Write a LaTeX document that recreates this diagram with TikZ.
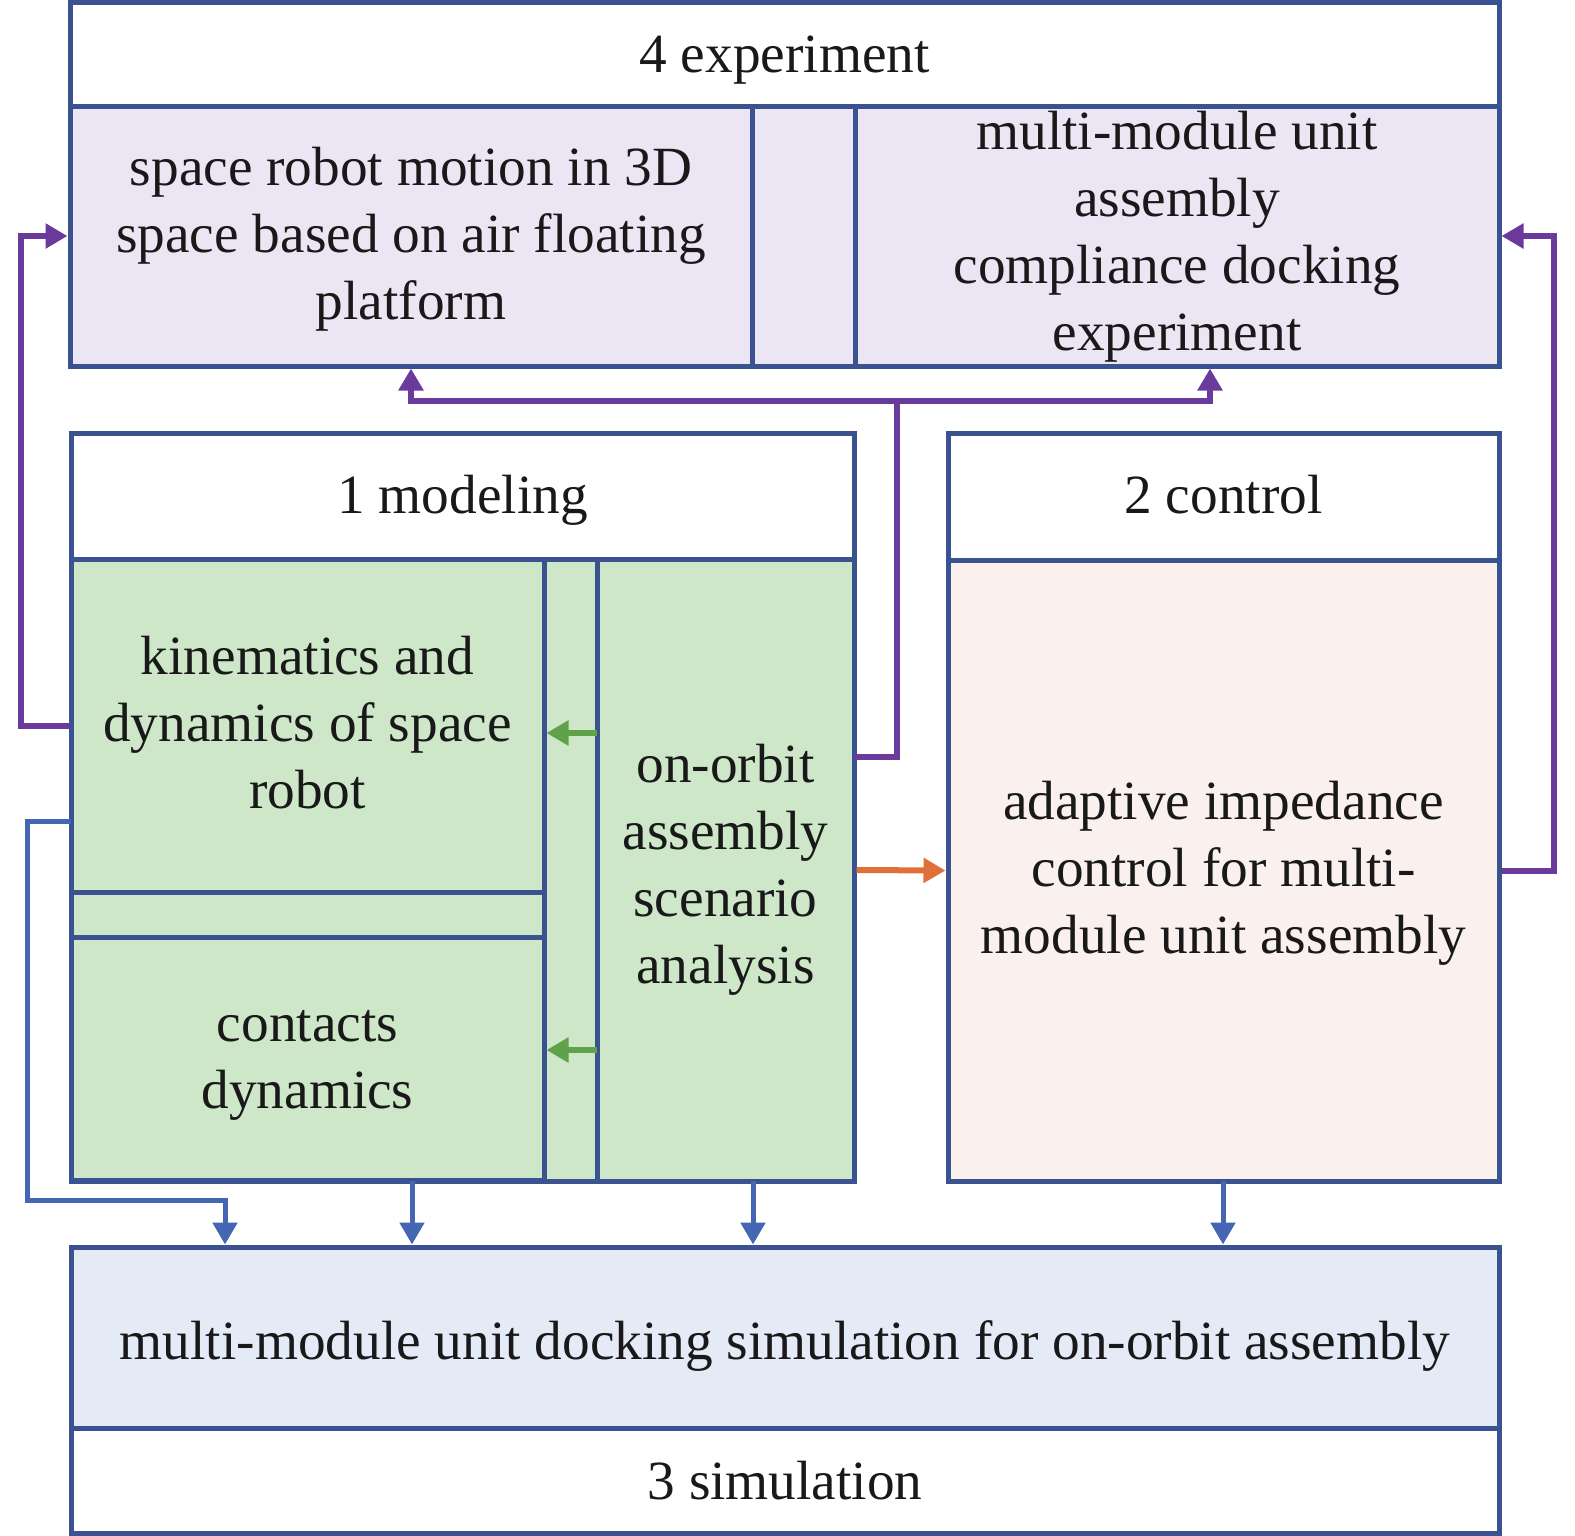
\documentclass[tikz,border=0pt]{standalone}
\usepackage{fontspec}
\setmainfont{Liberation Serif}
\usetikzlibrary{arrows.meta,calc}
\definecolor{bord}{HTML}{3A5290}
\definecolor{expfill}{HTML}{ECE5F3}
\definecolor{grnfill}{HTML}{CDE7C8}
\definecolor{ctrlfill}{HTML}{FAF1EE}
\definecolor{simfill}{HTML}{E4EAF6}
\definecolor{purp}{HTML}{6A3A9C}
\definecolor{oran}{HTML}{E0703A}
\definecolor{grn}{HTML}{5FA24A}
\definecolor{blu}{HTML}{4466B3}
\begin{document}
\begin{tikzpicture}[x=1pt,y=-1pt,
  cell/.style={draw=bord,line width=5pt,inner sep=0pt},
  txt/.style={inner sep=0pt,align=center,font=\fontsize{55.3}{67}\selectfont,text=black!90},
  tip/.style={-{Triangle[length=22pt,width=24pt]}},
  parr/.style={draw=purp,line width=6pt,tip},
  plin/.style={draw=purp,line width=6pt},
  oarr/.style={draw=oran,line width=6pt,tip},
  garr/.style={draw=grn,line width=6pt,tip},
  barr/.style={draw=blu,line width=5pt,tip}]
\useasboundingbox (0,0) rectangle (1575,1535);
% experiment
\node[cell,fill=white,minimum width=1429pt,minimum height=104pt] (exphead) at (784.5,54) {};
\node[cell,fill=expfill,minimum width=682pt,minimum height=260pt] (expL) at (411,236) {};
\node[cell,fill=expfill,minimum width=103pt,minimum height=260pt] (expM) at (803.5,236) {};
\node[cell,fill=expfill,minimum width=644pt,minimum height=260pt] (expR) at (1177,236) {};
% modeling
\node[cell,fill=white,minimum width=783pt,minimum height=127pt] (modhead) at (462.5,496.5) {};
\node[cell,fill=grnfill,minimum width=783pt,minimum height=622pt] (modbody) at (462.5,870) {};
\node[cell,fill=grnfill,minimum width=473pt,minimum height=333pt] (kin) at (307.5,725.5) {};
\node[cell,fill=grnfill,minimum width=473pt,minimum height=243pt] (cont) at (307.5,1058.5) {};
\node[cell,fill=grnfill,minimum width=53pt,minimum height=622pt] (gapcol) at (570.5,870) {};
\node[cell,fill=grnfill,minimum width=257pt,minimum height=622pt] (orbit) at (725.5,870) {};
% control
\node[cell,fill=white,minimum width=551pt,minimum height=127pt] (ctrlhead) at (1223.5,496.5) {};
\node[cell,fill=ctrlfill,minimum width=551pt,minimum height=621pt] (ctrl) at (1223.5,870.5) {};
% simulation
\node[cell,fill=simfill,minimum width=1428pt,minimum height=181pt] (sim) at (785,1337.5) {};
\node[cell,fill=white,minimum width=1428pt,minimum height=105pt] (simhead) at (785,1480.5) {};
% texts
\node[txt] (t1) at ($(exphead.center)+(0,6)$) {4 experiment};
\node[txt] (t2) at ($(expL.center)+(0,3)$) {space robot motion in 3D\\space based on air floating\\platform};
\node[txt] (t3) at ($(expR.center)+(0,1)$) {multi-module unit\\assembly\\compliance docking\\experiment};
\node[txt] (t4) at ($(modhead.center)+(0,4)$) {1 modeling};
\node[txt] (t5) at ($(kin.center)+(0,-3)$) {kinematics and\\dynamics of space\\robot};
\node[txt] (t6) at ($(cont.center)+(0,7)$) {contacts\\dynamics};
\node[txt] (t7) at (orbit.center) {on-orbit\\assembly\\scenario\\analysis};
\node[txt] (t8) at ($(ctrlhead.center)+(0,-2)$) {2 control};
\node[txt] (t9) at ($(ctrl.center)+(0,3)$) {adaptive impedance\\control for multi-\\module unit assembly};
\node[txt] (t10) at ($(sim.center)+(0,8)$) {multi-module unit docking simulation for on-orbit assembly};
\node[txt] (t11) at (simhead.center) {3 simulation};
% purple connectors
\draw[parr] (kin.west) -- ++(-48,0) |- (expL.west);
\coordinate (o1) at (854,757);
\coordinate (jn) at (897,401);
\draw[plin] (o1) -| (jn);
\draw[parr] (jn) -| (expL.south);
\draw[parr] (jn) -| ([xshift=33pt]expR.south);
\draw[parr] (ctrl.east) -- ++(52,0) |- (expR.east);
% orange
\draw[oarr] (orbit.east) -- (ctrl.west);
% green
\coordinate (g1) at (597,733);
\coordinate (g2) at (597,1050);
\draw[garr] (g1) -- (kin.east |- g1);
\draw[garr] (g2) -- (cont.east |- g2);
% blue
\coordinate (b0) at (71,821);
\coordinate (b1) at (225,1200);
\draw[barr] (b0) -- ++(-44,0) |- (b1) -- (sim.north -| b1);
\coordinate (b2) at (412,1181);
\coordinate (b3) at (753,1181);
\coordinate (b4) at (1223,1181);
\draw[barr] (b2) -- (sim.north -| b2);
\draw[barr] (b3) -- (sim.north -| b3);
\draw[barr] (b4) -- (sim.north -| b4);
\end{tikzpicture}
\end{document}
